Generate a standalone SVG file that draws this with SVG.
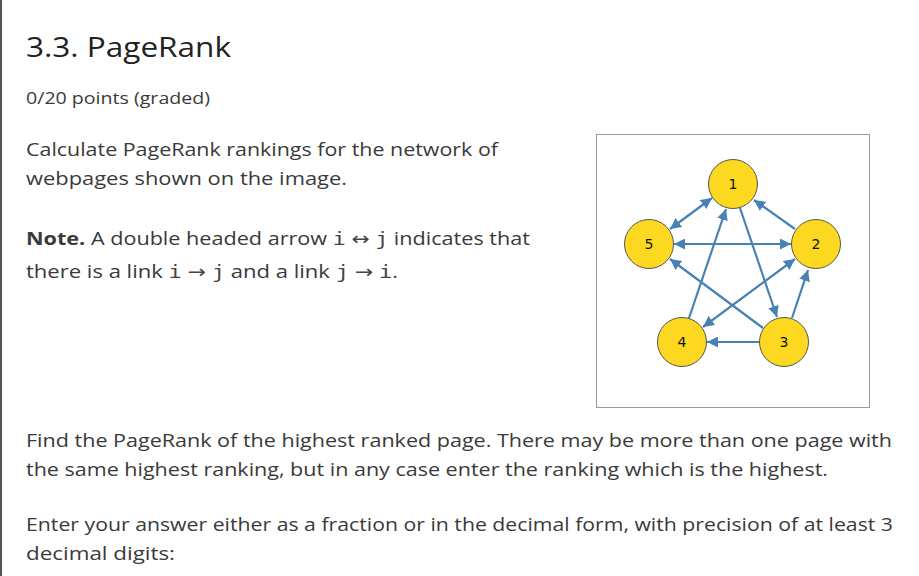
<svg xmlns="http://www.w3.org/2000/svg" width="919" height="576" viewBox="0 0 919 576">
<style>
.t{font-family:"Open Sans","Noto Sans",sans-serif;fill:#3a3a3a;font-size:18px}
.m{font-family:"DejaVu Sans Mono","Liberation Mono",monospace;fill:#444}
.ar{font-family:"DejaVu Sans",sans-serif;fill:#444}
.n circle{fill:#fcd920;stroke:#555;stroke-width:1}
.n text{font-family:"DejaVu Sans",sans-serif;font-size:14px;fill:#111;text-anchor:middle}
#edges line{stroke:#4682b4;stroke-width:2.2}
</style>
<defs>
<marker id="a" viewBox="0 0 10 10" refX="10" refY="5" markerWidth="5" markerHeight="5" orient="auto-start-reverse" markerUnits="strokeWidth"><path d="M0,0L10,5L0,10z" fill="#4682b4"/></marker>
</defs>
<rect width="919" height="576" fill="#fff"/>
<line x1="1" y1="0" x2="1" y2="576" stroke="#555" stroke-width="2"/>
<text class="t" x="26" y="57" style="font-size:28px;fill:#222" textLength="205" lengthAdjust="spacingAndGlyphs">3.3. PageRank</text>
<text class="t" x="26" y="104" style="font-size:16px" textLength="184" lengthAdjust="spacingAndGlyphs">0/20 points (graded)</text>
<text class="t" x="26" y="156" textLength="472" lengthAdjust="spacingAndGlyphs">Calculate PageRank rankings for the network of</text>
<text class="t" x="26" y="185" textLength="321" lengthAdjust="spacingAndGlyphs">webpages shown on the image.</text>
<text class="t" x="26" y="245" textLength="504" lengthAdjust="spacingAndGlyphs"><tspan font-weight="bold">Note.</tspan> A double headed arrow <tspan class="m">i</tspan> <tspan class="ar">↔</tspan> <tspan class="m">j</tspan> indicates that</text>
<text class="t" x="26" y="278" textLength="372" lengthAdjust="spacingAndGlyphs">there is a link <tspan class="m">i</tspan> <tspan class="ar">→</tspan> <tspan class="m">j</tspan> and a link <tspan class="m">j</tspan> <tspan class="ar">→</tspan> <tspan class="m">i</tspan>.</text>
<text class="t" x="26" y="447" textLength="866" lengthAdjust="spacingAndGlyphs">Find the PageRank of the highest ranked page. There may be more than one page with</text>
<text class="t" x="26" y="476" textLength="802" lengthAdjust="spacingAndGlyphs">the same highest ranking, but in any case enter the ranking which is the highest.</text>
<text class="t" x="26" y="531" textLength="867" lengthAdjust="spacingAndGlyphs">Enter your answer either as a fraction or in the decimal form, with precision of at least 3</text>
<text class="t" x="26" y="560" textLength="149" lengthAdjust="spacingAndGlyphs">decimal digits:</text>
<rect x="596.5" y="134.5" width="273" height="273" fill="#fff" stroke="#999"/>
<g id="edges" marker-end="url(#a)">
<line x1="712" y1="198" x2="670" y2="229" marker-start="url(#a)" marker-end="url(#a)"/>
<line x1="795" y1="229" x2="754" y2="200" marker-end="url(#a)"/>
<line x1="674" y1="244" x2="791" y2="244" marker-start="url(#a)" marker-end="url(#a)"/>
<line x1="740" y1="208" x2="777" y2="317" marker-end="url(#a)"/>
<line x1="689" y1="318" x2="726" y2="209" marker-end="url(#a)"/>
<line x1="763" y1="328" x2="670" y2="259" marker-end="url(#a)"/>
<line x1="759" y1="342" x2="707" y2="342" marker-end="url(#a)"/>
<line x1="792" y1="318" x2="808" y2="270" marker-end="url(#a)"/>
<line x1="703" y1="327" x2="795" y2="259" marker-start="url(#a)" marker-end="url(#a)"/>
</g>
<g id="n1" class="n"><circle cx="733" cy="184" r="24.5"/><text x="733" y="189">1</text></g>
<g id="n2" class="n"><circle cx="816" cy="244" r="24.5"/><text x="816" y="249">2</text></g>
<g id="n3" class="n"><circle cx="784" cy="342" r="24.5"/><text x="784" y="347">3</text></g>
<g id="n4" class="n"><circle cx="682" cy="342" r="24.5"/><text x="682" y="347">4</text></g>
<g id="n5" class="n"><circle cx="649" cy="244" r="24.5"/><text x="649" y="249">5</text></g>
</svg>
